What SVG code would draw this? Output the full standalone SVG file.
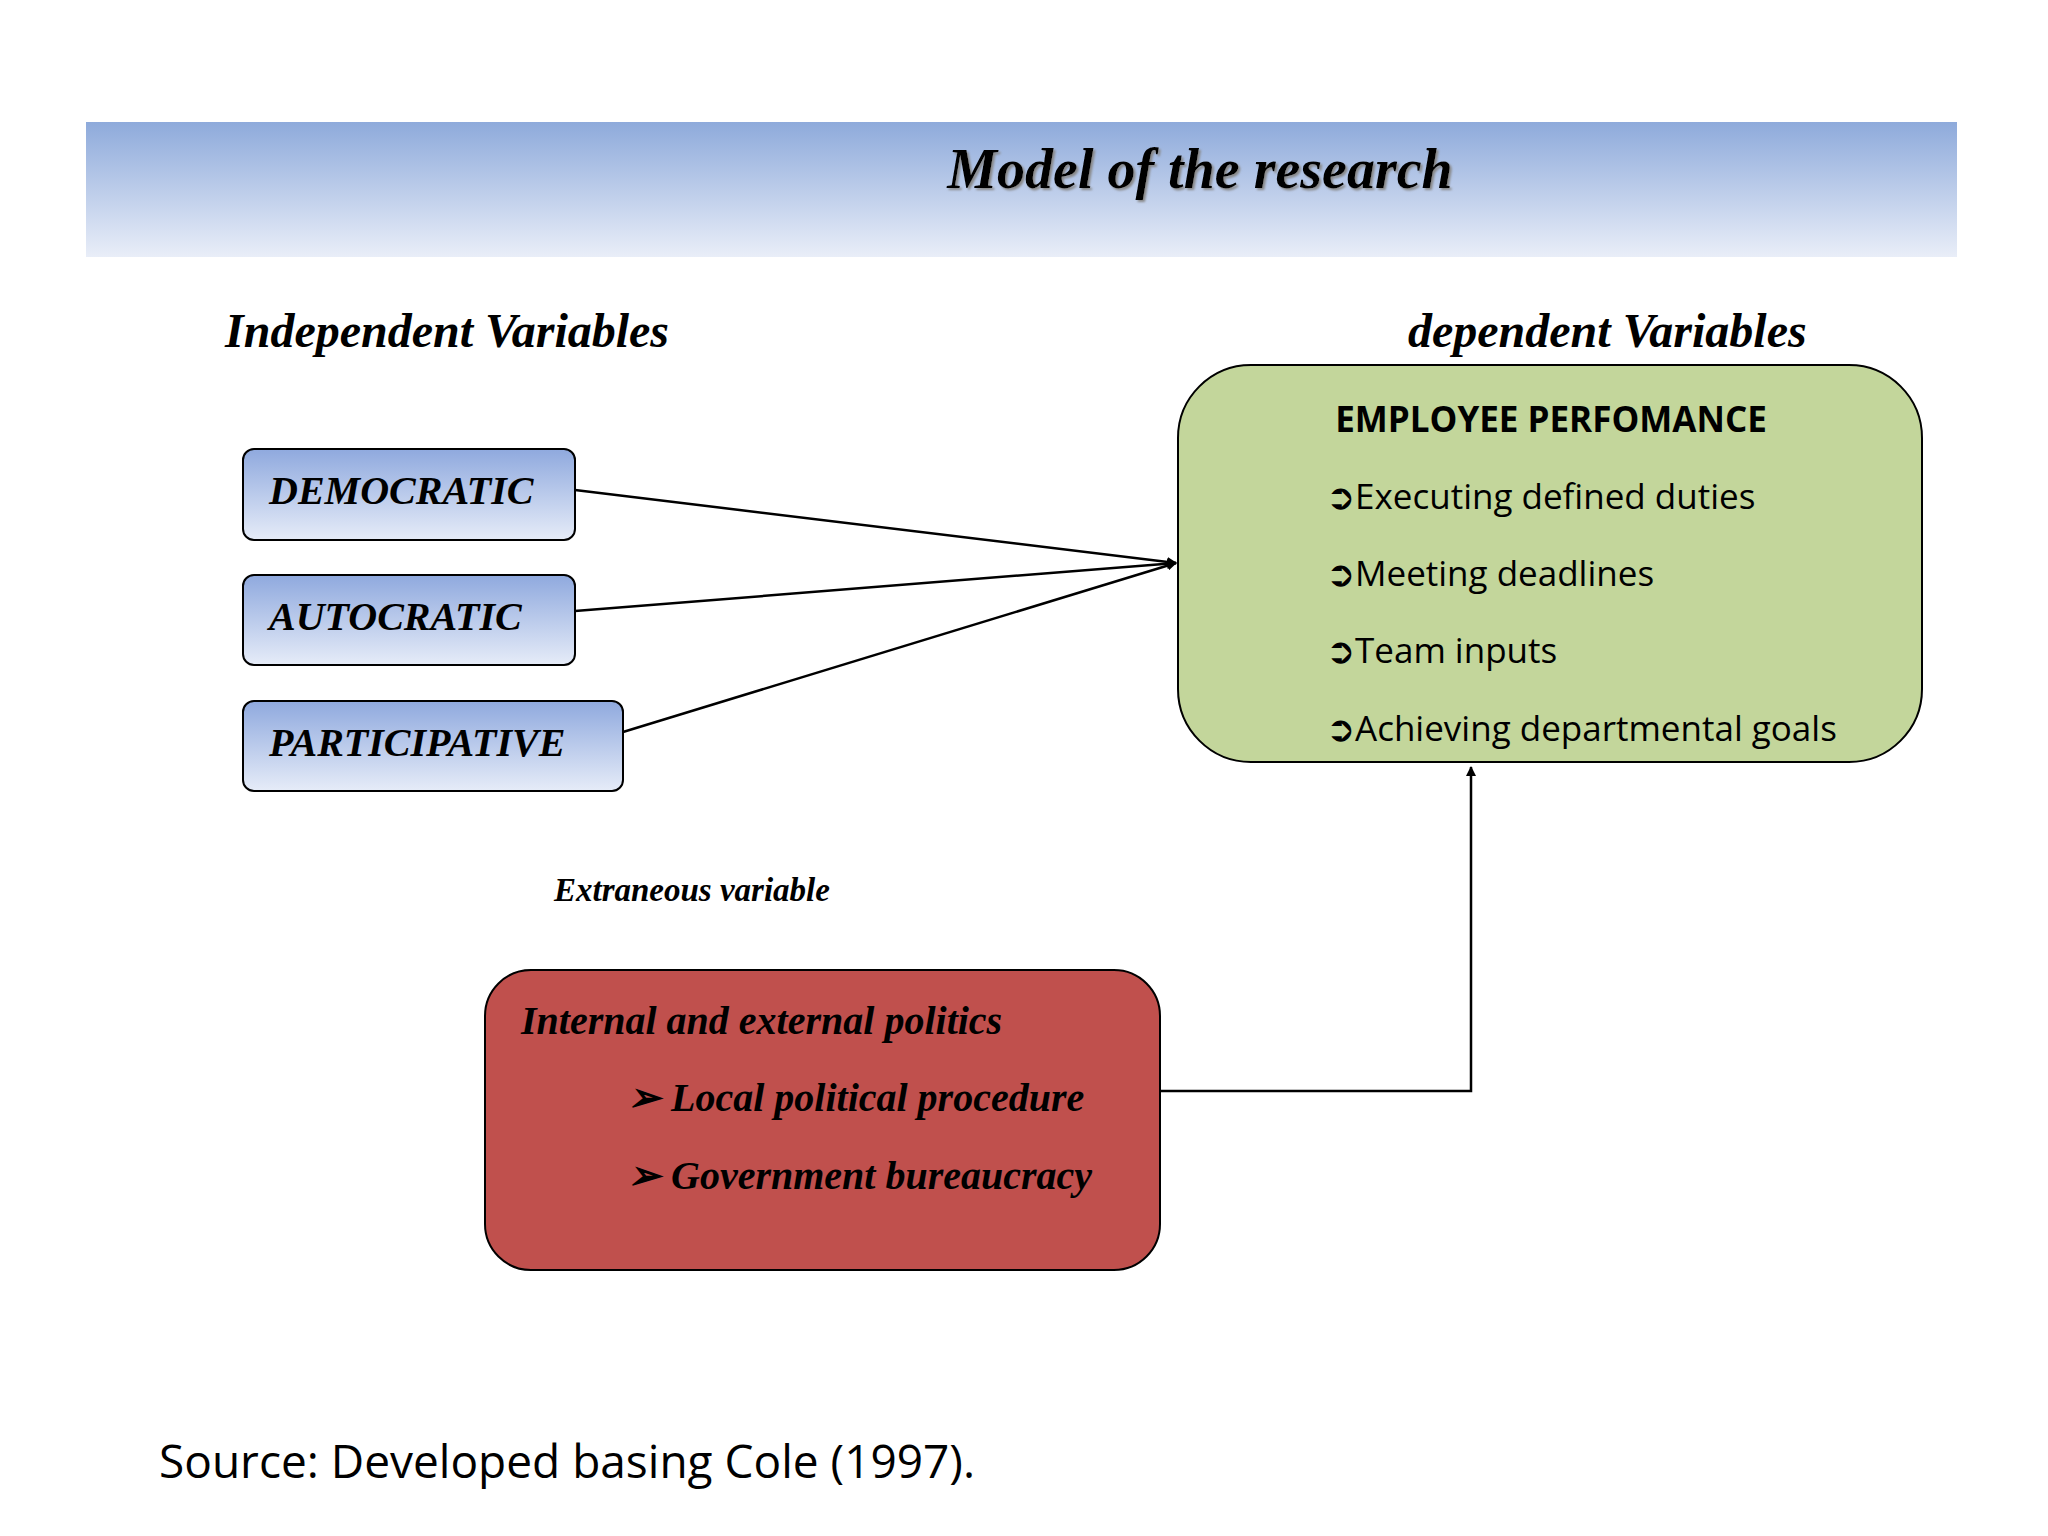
<svg xmlns="http://www.w3.org/2000/svg" width="2048" height="1536" viewBox="0 0 2048 1536">
<defs>
<linearGradient id="hdr" x1="0" y1="0" x2="0" y2="1"><stop offset="0" stop-color="#8eaadb"/><stop offset="1" stop-color="#e9eef8"/></linearGradient>
<linearGradient id="blue" x1="0" y1="0" x2="0" y2="1"><stop offset="0" stop-color="#8fa9de"/><stop offset="1" stop-color="#e6ecf8"/></linearGradient>
<marker id="ah" markerWidth="10" markerHeight="10" refX="9" refY="5" orient="auto" markerUnits="userSpaceOnUse"><path d="M0,0 L10,5 L0,10 z" fill="#000"/></marker>
<filter id="sh"><feDropShadow dx="2" dy="2" stdDeviation="1" flood-color="#888"/></filter>
</defs>
<style>
.serif{font-family:"Liberation Serif","DejaVu Serif",serif;font-weight:bold;font-style:italic;fill:#000}
.sans{font-family:"Open Sans","Noto Sans",sans-serif;fill:#000}
.conn{stroke:#000;stroke-width:2.5;fill:none}
</style>
<rect width="2048" height="1536" fill="#fff"/>
<rect x="86" y="122" width="1871" height="135" fill="url(#hdr)"/>
<text class="serif" x="1200" y="188" font-size="56" text-anchor="middle" filter="url(#sh)">Model of the research</text>
<text class="serif" x="225" y="347" font-size="48">Independent Variables</text>
<text class="serif" x="1408" y="347" font-size="48">dependent Variables</text>
<g id="connectors">
<line class="conn" x1="575" y1="490" x2="1176" y2="563" marker-end="url(#ah)"/>
<line class="conn" x1="575" y1="611" x2="1176" y2="563" marker-end="url(#ah)"/>
<line class="conn" x1="623" y1="732" x2="1176" y2="563" marker-end="url(#ah)"/>
<polyline class="conn" points="1160,1091 1471,1091 1471,767" marker-end="url(#ah)"/>
</g>
<g id="employee">
<rect x="1178" y="365" width="744" height="397" rx="73" fill="#c3d69b" stroke="#000" stroke-width="2"/>
<text class="sans" x="1551" y="432" font-size="35" font-weight="bold" text-anchor="middle">EMPLOYEE PERFOMANCE</text>
<text class="sans" x="1326" y="509" font-size="35">➲Executing defined duties</text>
<text class="sans" x="1326" y="586" font-size="35">➲Meeting deadlines</text>
<text class="sans" x="1326" y="663" font-size="35">➲Team inputs</text>
<text class="sans" x="1326" y="741" font-size="35">➲Achieving departmental goals</text>
</g>
<g id="democratic"><rect x="243" y="449" width="332" height="91" rx="11" fill="url(#blue)" stroke="#000" stroke-width="2"/><text class="serif" x="269" y="504" font-size="40">DEMOCRATIC</text></g>
<g id="autocratic"><rect x="243" y="575" width="332" height="90" rx="11" fill="url(#blue)" stroke="#000" stroke-width="2"/><text class="serif" x="269" y="630" font-size="40">AUTOCRATIC</text></g>
<g id="participative"><rect x="243" y="701" width="380" height="90" rx="11" fill="url(#blue)" stroke="#000" stroke-width="2"/><text class="serif" x="269" y="756" font-size="40">PARTICIPATIVE</text></g>
<text class="serif" x="554" y="901" font-size="33">Extraneous variable</text>
<g id="politics">
<rect x="485" y="970" width="675" height="300" rx="46" fill="#c0504d" stroke="#000" stroke-width="2"/>
<text class="serif" x="521" y="1034" font-size="40">Internal and external politics</text>
<text class="serif" x="627" y="1111" font-size="40">➢ Local political procedure</text>
<text class="serif" x="627" y="1189" font-size="40">➢ Government bureaucracy</text>
</g>
<text class="sans" x="159" y="1478" font-size="46">Source: Developed basing Cole (1997).</text>
</svg>
